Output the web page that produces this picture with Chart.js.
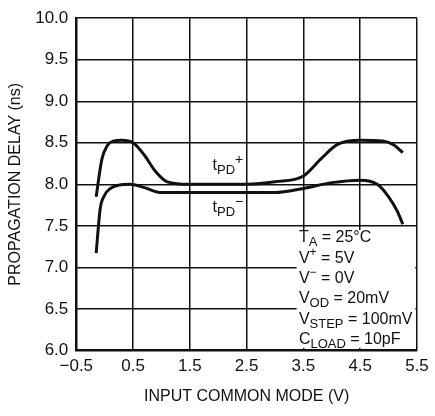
<!DOCTYPE html>
<html><head><meta charset="utf-8">
<script src="https://cdn.jsdelivr.net/npm/chart.js@4"></script>
<style>html,body{margin:0;background:#fff}#w{width:435px;height:416px}</style>
</head><body><div id="w"><canvas id="c"></canvas></div>
<script>
const tpdPlusX = [-0.15,-0.05,0.05,0.15,0.3,0.5,0.7,0.9,1.1,1.5,2.0,2.5,3.0,3.5,3.8,4.1,4.5,4.9,5.1,5.25];
const tpdPlusY = [7.85,8.3,8.47,8.52,8.53,8.5,8.35,8.15,8.03,8.0,8.0,8.0,8.03,8.1,8.3,8.48,8.53,8.52,8.47,8.38];
const tpdMinusX = [-0.15,-0.08,0.0,0.1,0.25,0.45,0.7,1.0,1.5,2.0,2.5,3.0,3.5,4.0,4.5,4.8,5.0,5.15,5.25];
const tpdMinusY = [7.17,7.7,7.87,7.95,7.99,8.0,7.96,7.9,7.9,7.9,7.9,7.9,7.95,8.02,8.05,8.0,7.85,7.68,7.52];
const xTicks = [-0.5,0.5,1.5,2.5,3.5,4.5,5.5];
const yTicks = [6.0,6.5,7.0,7.5,8.0,8.5,9.0,9.5,10.0];
const notes = [["T","A"," = 25°C",""],["V","",""," = 5V","+"],["V","",""," = 0V","−"],["V","OD"," = 20mV",""],["V","STEP"," = 100mV",""],["C","LOAD"," = 10pF",""]];
const F = "'Liberation Sans Narrow','Liberation Sans',Arial,sans-serif";
const pts = (xs,ys)=>xs.map((x,i)=>({x,y:ys[i]}));
const textPlugin = {id:'txt', afterDraw(ch){
  const c=ch.ctx, xs=ch.scales.x, ys=ch.scales.y;
  c.save(); c.fillStyle='#111'; c.textBaseline='alphabetic';
  function lbl(x,y,sup){
    let px=xs.getPixelForValue(x), py=ys.getPixelForValue(y);
    c.font='16px '+F; c.fillText('t',px,py); px+=c.measureText('t').width;
    c.font='13px '+F; c.fillText('PD',px,py+4); px+=c.measureText('PD').width;
    c.font='14px '+F; c.fillText(sup,px,py-6);
  }
  lbl(1.9,8.17,'+'); lbl(1.9,7.67,'−');
  let y0=7.3;
  notes.forEach((n,i)=>{
    let px=xs.getPixelForValue(3.42), py=ys.getPixelForValue(y0-i*0.245);
    c.font='16px '+F; c.fillText(n[0],px,py); px+=c.measureText(n[0]).width;
    if(n[4]){c.font='12px '+F; c.fillText(n[4],px,py-7); px+=c.measureText(n[4]).width;}
    if(n[1]){c.font='13px '+F; c.fillText(n[1],px,py+4); px+=c.measureText(n[1]).width;}
    c.font='16px '+F; c.fillText(n[2]||n[3],px,py);
  });
  c.restore();
}};
const bgPlugin={id:'bg',beforeDatasetsDraw(ch){
  const c=ch.ctx, xs=ch.scales.x, ys=ch.scales.y;
  c.save(); c.fillStyle='#fff';
  c.fillRect(xs.getPixelForValue(3.38),ys.getPixelForValue(7.45),xs.getPixelForValue(5.47)-xs.getPixelForValue(3.38),ys.getPixelForValue(6.03)-ys.getPixelForValue(7.45));
  c.restore();
}};
new Chart(document.getElementById('c'),{
  type:'line',
  data:{datasets:[
    {data:pts(tpdPlusX,tpdPlusY),borderColor:'#111',borderWidth:3,pointRadius:0,cubicInterpolationMode:'monotone'},
    {data:pts(tpdMinusX,tpdMinusY),borderColor:'#111',borderWidth:3,pointRadius:0,cubicInterpolationMode:'monotone'}
  ]},
  options:{responsive:true,maintainAspectRatio:false,animation:false,
    layout:{padding:{top:9,right:18,left:2,bottom:6}},
    plugins:{legend:{display:false},tooltip:{enabled:false}},
    scales:{
      x:{type:'linear',min:-0.5,max:5.5,
        afterBuildTicks:a=>{a.ticks=xTicks.map(v=>({value:v}));},
        ticks:{color:'#111',font:{family:F,size:17},padding:6,maxRotation:0,callback:v=>v<0?'−'+Math.abs(v).toFixed(1):v.toFixed(1)},
        grid:{color:'#111',lineWidth:1.5,drawTicks:false},border:{color:'#111',width:2},
        title:{display:true,text:'INPUT COMMON MODE (V)',color:'#111',font:{family:F,size:16},padding:{top:4}}},
      y:{min:6,max:10,
        afterBuildTicks:a=>{a.ticks=yTicks.map(v=>({value:v}));},
        ticks:{color:'#111',font:{family:F,size:17},padding:8,callback:v=>v.toFixed(1)},
        grid:{color:'#111',lineWidth:1.5,drawTicks:false},border:{color:'#111',width:2},
        title:{display:true,text:'PROPAGATION DELAY (ns)',color:'#111',font:{family:F,size:16},padding:{bottom:2}}}
    }},
  plugins:[bgPlugin,textPlugin]
});
</script></body></html>
